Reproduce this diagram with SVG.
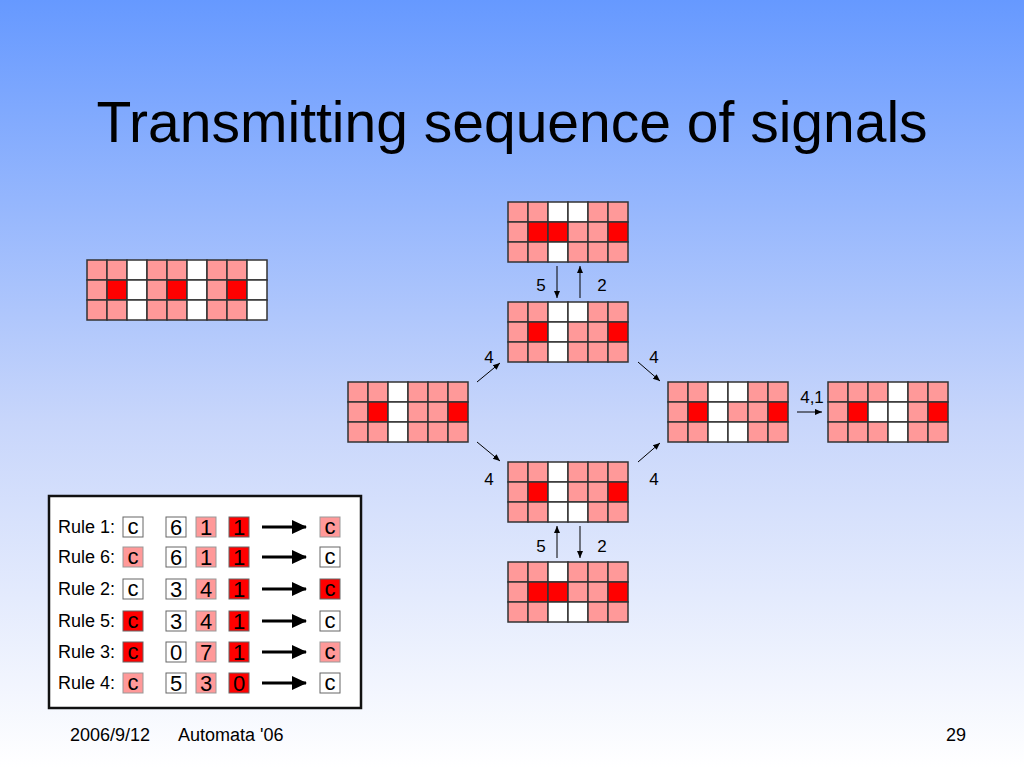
<svg xmlns="http://www.w3.org/2000/svg" width="1024" height="768" viewBox="0 0 1024 768">
<defs>
<linearGradient id="bg" x1="0" y1="0" x2="0" y2="1">
<stop offset="0" stop-color="#6699ff"/><stop offset="0.55" stop-color="#c8d6fb"/><stop offset="1" stop-color="#ffffff"/>
</linearGradient>
<marker id="ah" markerWidth="8" markerHeight="8" refX="7" refY="4" orient="auto" markerUnits="userSpaceOnUse"><path d="M0,1 L7,4 L0,7 z" fill="#000"/></marker>
<marker id="bh" markerWidth="20" markerHeight="16" refX="14" refY="8" orient="auto" markerUnits="userSpaceOnUse"><path d="M0,1 L15,8 L0,15 z" fill="#000"/></marker>
</defs>
<style>
.P{fill:#ff9999;stroke:#333;stroke-width:1.5}
.R{fill:#ff0000;stroke:#333;stroke-width:1.5}
.W{fill:#ffffff;stroke:#333;stroke-width:1.5}
.bp{fill:#ff9999;stroke:#999;stroke-width:1}
.br{fill:#ff0000;stroke:#666;stroke-width:1}
.bw{fill:#ffffff;stroke:#666;stroke-width:1}
text{font-family:"Liberation Sans",Arial,sans-serif;fill:#000}
.lb{font-size:17px;text-anchor:middle}
.rt{font-size:18px}
.bt{font-size:22px;text-anchor:middle}
.c{stroke:#000;stroke-width:1;fill:none;marker-end:url(#ah)}
.ba{stroke:#000;stroke-width:3;fill:none;marker-end:url(#bh)}
</style>
<rect width="1024" height="768" fill="url(#bg)"/>
<text x="512" y="142" font-size="57" text-anchor="middle">Transmitting sequence of signals</text>

<g id="grid9">
<rect class="P" x="87" y="260" width="20" height="20"/><rect class="P" x="107" y="260" width="20" height="20"/><rect class="W" x="127" y="260" width="20" height="20"/><rect class="P" x="147" y="260" width="20" height="20"/><rect class="P" x="167" y="260" width="20" height="20"/><rect class="W" x="187" y="260" width="20" height="20"/><rect class="P" x="207" y="260" width="20" height="20"/><rect class="P" x="227" y="260" width="20" height="20"/><rect class="W" x="247" y="260" width="20" height="20"/>
<rect class="P" x="87" y="280" width="20" height="20"/><rect class="R" x="107" y="280" width="20" height="20"/><rect class="W" x="127" y="280" width="20" height="20"/><rect class="P" x="147" y="280" width="20" height="20"/><rect class="R" x="167" y="280" width="20" height="20"/><rect class="W" x="187" y="280" width="20" height="20"/><rect class="P" x="207" y="280" width="20" height="20"/><rect class="R" x="227" y="280" width="20" height="20"/><rect class="W" x="247" y="280" width="20" height="20"/>
<rect class="P" x="87" y="300" width="20" height="20"/><rect class="P" x="107" y="300" width="20" height="20"/><rect class="W" x="127" y="300" width="20" height="20"/><rect class="P" x="147" y="300" width="20" height="20"/><rect class="P" x="167" y="300" width="20" height="20"/><rect class="W" x="187" y="300" width="20" height="20"/><rect class="P" x="207" y="300" width="20" height="20"/><rect class="P" x="227" y="300" width="20" height="20"/><rect class="W" x="247" y="300" width="20" height="20"/>
</g>

<g id="gTop" transform="translate(508,202)">
<rect class="P" x="0" y="0" width="20" height="20"/><rect class="P" x="20" y="0" width="20" height="20"/><rect class="W" x="40" y="0" width="20" height="20"/><rect class="W" x="60" y="0" width="20" height="20"/><rect class="P" x="80" y="0" width="20" height="20"/><rect class="P" x="100" y="0" width="20" height="20"/>
<rect class="P" x="0" y="20" width="20" height="20"/><rect class="R" x="20" y="20" width="20" height="20"/><rect class="R" x="40" y="20" width="20" height="20"/><rect class="P" x="60" y="20" width="20" height="20"/><rect class="P" x="80" y="20" width="20" height="20"/><rect class="R" x="100" y="20" width="20" height="20"/>
<rect class="P" x="0" y="40" width="20" height="20"/><rect class="P" x="20" y="40" width="20" height="20"/><rect class="W" x="40" y="40" width="20" height="20"/><rect class="P" x="60" y="40" width="20" height="20"/><rect class="P" x="80" y="40" width="20" height="20"/><rect class="P" x="100" y="40" width="20" height="20"/>
</g>
<g id="gMidTop" transform="translate(508,302)">
<rect class="P" x="0" y="0" width="20" height="20"/><rect class="P" x="20" y="0" width="20" height="20"/><rect class="W" x="40" y="0" width="20" height="20"/><rect class="W" x="60" y="0" width="20" height="20"/><rect class="P" x="80" y="0" width="20" height="20"/><rect class="P" x="100" y="0" width="20" height="20"/>
<rect class="P" x="0" y="20" width="20" height="20"/><rect class="R" x="20" y="20" width="20" height="20"/><rect class="W" x="40" y="20" width="20" height="20"/><rect class="P" x="60" y="20" width="20" height="20"/><rect class="P" x="80" y="20" width="20" height="20"/><rect class="R" x="100" y="20" width="20" height="20"/>
<rect class="P" x="0" y="40" width="20" height="20"/><rect class="P" x="20" y="40" width="20" height="20"/><rect class="W" x="40" y="40" width="20" height="20"/><rect class="P" x="60" y="40" width="20" height="20"/><rect class="P" x="80" y="40" width="20" height="20"/><rect class="P" x="100" y="40" width="20" height="20"/>
</g>
<g id="gLeft" transform="translate(348,382)">
<rect class="P" x="0" y="0" width="20" height="20"/><rect class="P" x="20" y="0" width="20" height="20"/><rect class="W" x="40" y="0" width="20" height="20"/><rect class="P" x="60" y="0" width="20" height="20"/><rect class="P" x="80" y="0" width="20" height="20"/><rect class="P" x="100" y="0" width="20" height="20"/>
<rect class="P" x="0" y="20" width="20" height="20"/><rect class="R" x="20" y="20" width="20" height="20"/><rect class="W" x="40" y="20" width="20" height="20"/><rect class="P" x="60" y="20" width="20" height="20"/><rect class="P" x="80" y="20" width="20" height="20"/><rect class="R" x="100" y="20" width="20" height="20"/>
<rect class="P" x="0" y="40" width="20" height="20"/><rect class="P" x="20" y="40" width="20" height="20"/><rect class="W" x="40" y="40" width="20" height="20"/><rect class="P" x="60" y="40" width="20" height="20"/><rect class="P" x="80" y="40" width="20" height="20"/><rect class="P" x="100" y="40" width="20" height="20"/>
</g>
<g id="gMidBot" transform="translate(508,462)">
<rect class="P" x="0" y="0" width="20" height="20"/><rect class="P" x="20" y="0" width="20" height="20"/><rect class="W" x="40" y="0" width="20" height="20"/><rect class="P" x="60" y="0" width="20" height="20"/><rect class="P" x="80" y="0" width="20" height="20"/><rect class="P" x="100" y="0" width="20" height="20"/>
<rect class="P" x="0" y="20" width="20" height="20"/><rect class="R" x="20" y="20" width="20" height="20"/><rect class="W" x="40" y="20" width="20" height="20"/><rect class="P" x="60" y="20" width="20" height="20"/><rect class="P" x="80" y="20" width="20" height="20"/><rect class="R" x="100" y="20" width="20" height="20"/>
<rect class="P" x="0" y="40" width="20" height="20"/><rect class="P" x="20" y="40" width="20" height="20"/><rect class="W" x="40" y="40" width="20" height="20"/><rect class="W" x="60" y="40" width="20" height="20"/><rect class="P" x="80" y="40" width="20" height="20"/><rect class="P" x="100" y="40" width="20" height="20"/>
</g>
<g id="gBot" transform="translate(508,562)">
<rect class="P" x="0" y="0" width="20" height="20"/><rect class="P" x="20" y="0" width="20" height="20"/><rect class="W" x="40" y="0" width="20" height="20"/><rect class="P" x="60" y="0" width="20" height="20"/><rect class="P" x="80" y="0" width="20" height="20"/><rect class="P" x="100" y="0" width="20" height="20"/>
<rect class="P" x="0" y="20" width="20" height="20"/><rect class="R" x="20" y="20" width="20" height="20"/><rect class="R" x="40" y="20" width="20" height="20"/><rect class="P" x="60" y="20" width="20" height="20"/><rect class="P" x="80" y="20" width="20" height="20"/><rect class="R" x="100" y="20" width="20" height="20"/>
<rect class="P" x="0" y="40" width="20" height="20"/><rect class="P" x="20" y="40" width="20" height="20"/><rect class="W" x="40" y="40" width="20" height="20"/><rect class="W" x="60" y="40" width="20" height="20"/><rect class="P" x="80" y="40" width="20" height="20"/><rect class="P" x="100" y="40" width="20" height="20"/>
</g>
<g id="gRight1" transform="translate(668,382)">
<rect class="P" x="0" y="0" width="20" height="20"/><rect class="P" x="20" y="0" width="20" height="20"/><rect class="W" x="40" y="0" width="20" height="20"/><rect class="W" x="60" y="0" width="20" height="20"/><rect class="P" x="80" y="0" width="20" height="20"/><rect class="P" x="100" y="0" width="20" height="20"/>
<rect class="P" x="0" y="20" width="20" height="20"/><rect class="R" x="20" y="20" width="20" height="20"/><rect class="W" x="40" y="20" width="20" height="20"/><rect class="P" x="60" y="20" width="20" height="20"/><rect class="P" x="80" y="20" width="20" height="20"/><rect class="R" x="100" y="20" width="20" height="20"/>
<rect class="P" x="0" y="40" width="20" height="20"/><rect class="P" x="20" y="40" width="20" height="20"/><rect class="W" x="40" y="40" width="20" height="20"/><rect class="W" x="60" y="40" width="20" height="20"/><rect class="P" x="80" y="40" width="20" height="20"/><rect class="P" x="100" y="40" width="20" height="20"/>
</g>
<g id="gRight2" transform="translate(828,382)">
<rect class="P" x="0" y="0" width="20" height="20"/><rect class="P" x="20" y="0" width="20" height="20"/><rect class="P" x="40" y="0" width="20" height="20"/><rect class="W" x="60" y="0" width="20" height="20"/><rect class="P" x="80" y="0" width="20" height="20"/><rect class="P" x="100" y="0" width="20" height="20"/>
<rect class="P" x="0" y="20" width="20" height="20"/><rect class="R" x="20" y="20" width="20" height="20"/><rect class="W" x="40" y="20" width="20" height="20"/><rect class="W" x="60" y="20" width="20" height="20"/><rect class="P" x="80" y="20" width="20" height="20"/><rect class="R" x="100" y="20" width="20" height="20"/>
<rect class="P" x="0" y="40" width="20" height="20"/><rect class="P" x="20" y="40" width="20" height="20"/><rect class="P" x="40" y="40" width="20" height="20"/><rect class="W" x="60" y="40" width="20" height="20"/><rect class="P" x="80" y="40" width="20" height="20"/><rect class="P" x="100" y="40" width="20" height="20"/>
</g>

<g id="connectors">
<line class="c" x1="557" y1="266" x2="557" y2="298"/>
<line class="c" x1="580" y1="298" x2="580" y2="266"/>
<line class="c" x1="557" y1="558" x2="557" y2="526"/>
<line class="c" x1="580" y1="526" x2="580" y2="558"/>
<line class="c" x1="477" y1="382" x2="500" y2="363"/>
<line class="c" x1="477" y1="442" x2="500" y2="461"/>
<line class="c" x1="638" y1="362" x2="660" y2="381"/>
<line class="c" x1="638" y1="462" x2="660" y2="443"/>
<line class="c" x1="797" y1="412" x2="822" y2="412"/>
<text class="lb" x="541" y="291">5</text><text class="lb" x="602" y="291">2</text>
<text class="lb" x="541" y="552">5</text><text class="lb" x="602" y="552">2</text>
<text class="lb" x="489" y="363">4</text><text class="lb" x="489" y="485">4</text>
<text class="lb" x="654" y="363">4</text><text class="lb" x="654" y="485">4</text>
<text class="lb" x="812" y="403">4,1</text>
</g>

<g id="rules">
<rect x="49" y="496" width="312" height="212" fill="#fff" stroke="#111" stroke-width="2.5"/>
<g transform="translate(0,527)">
<text class="rt" x="58" y="6">Rule 1:</text><rect class="bw" x="123" y="-10" width="20" height="20"/><text class="bt" x="133" y="7">c</text>
<rect class="bw" x="166" y="-10" width="20" height="20"/><text class="bt" x="176" y="8">6</text><rect class="bp" x="196" y="-10" width="20" height="20"/><text class="bt" x="206" y="8">1</text><rect class="br" x="229" y="-10" width="20" height="20"/><text class="bt" x="239" y="8">1</text>
<line class="ba" x1="262" y1="0" x2="306" y2="0"/><rect class="bp" x="320" y="-10" width="20" height="20"/><text class="bt" x="330" y="7">c</text>
</g>
<g transform="translate(0,557)">
<text class="rt" x="58" y="6">Rule 6:</text><rect class="bp" x="123" y="-10" width="20" height="20"/><text class="bt" x="133" y="7">c</text>
<rect class="bw" x="166" y="-10" width="20" height="20"/><text class="bt" x="176" y="8">6</text><rect class="bp" x="196" y="-10" width="20" height="20"/><text class="bt" x="206" y="8">1</text><rect class="br" x="229" y="-10" width="20" height="20"/><text class="bt" x="239" y="8">1</text>
<line class="ba" x1="262" y1="0" x2="306" y2="0"/><rect class="bw" x="320" y="-10" width="20" height="20"/><text class="bt" x="330" y="7">c</text>
</g>
<g transform="translate(0,589)">
<text class="rt" x="58" y="6">Rule 2:</text><rect class="bw" x="123" y="-10" width="20" height="20"/><text class="bt" x="133" y="7">c</text>
<rect class="bw" x="166" y="-10" width="20" height="20"/><text class="bt" x="176" y="8">3</text><rect class="bp" x="196" y="-10" width="20" height="20"/><text class="bt" x="206" y="8">4</text><rect class="br" x="229" y="-10" width="20" height="20"/><text class="bt" x="239" y="8">1</text>
<line class="ba" x1="262" y1="0" x2="306" y2="0"/><rect class="br" x="320" y="-10" width="20" height="20"/><text class="bt" x="330" y="7">c</text>
</g>
<g transform="translate(0,621)">
<text class="rt" x="58" y="6">Rule 5:</text><rect class="br" x="123" y="-10" width="20" height="20"/><text class="bt" x="133" y="7">c</text>
<rect class="bw" x="166" y="-10" width="20" height="20"/><text class="bt" x="176" y="8">3</text><rect class="bp" x="196" y="-10" width="20" height="20"/><text class="bt" x="206" y="8">4</text><rect class="br" x="229" y="-10" width="20" height="20"/><text class="bt" x="239" y="8">1</text>
<line class="ba" x1="262" y1="0" x2="306" y2="0"/><rect class="bw" x="320" y="-10" width="20" height="20"/><text class="bt" x="330" y="7">c</text>
</g>
<g transform="translate(0,652)">
<text class="rt" x="58" y="6">Rule 3:</text><rect class="br" x="123" y="-10" width="20" height="20"/><text class="bt" x="133" y="7">c</text>
<rect class="bw" x="166" y="-10" width="20" height="20"/><text class="bt" x="176" y="8">0</text><rect class="bp" x="196" y="-10" width="20" height="20"/><text class="bt" x="206" y="8">7</text><rect class="br" x="229" y="-10" width="20" height="20"/><text class="bt" x="239" y="8">1</text>
<line class="ba" x1="262" y1="0" x2="306" y2="0"/><rect class="bp" x="320" y="-10" width="20" height="20"/><text class="bt" x="330" y="7">c</text>
</g>
<g transform="translate(0,683)">
<text class="rt" x="58" y="6">Rule 4:</text><rect class="bp" x="123" y="-10" width="20" height="20"/><text class="bt" x="133" y="7">c</text>
<rect class="bw" x="166" y="-10" width="20" height="20"/><text class="bt" x="176" y="8">5</text><rect class="bp" x="196" y="-10" width="20" height="20"/><text class="bt" x="206" y="8">3</text><rect class="br" x="229" y="-10" width="20" height="20"/><text class="bt" x="239" y="8">0</text>
<line class="ba" x1="262" y1="0" x2="306" y2="0"/><rect class="bw" x="320" y="-10" width="20" height="20"/><text class="bt" x="330" y="7">c</text>
</g>
</g>

<text x="70" y="741" font-size="18">2006/9/12</text>
<text x="178" y="741" font-size="18">Automata '06</text>
<text x="946" y="741" font-size="18">29</text>
</svg>
